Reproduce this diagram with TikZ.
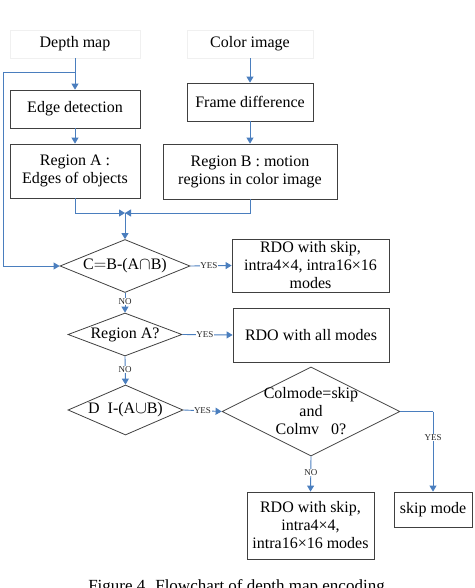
\documentclass[tikz,border=0pt]{standalone}
\usepackage{fontspec}
\setmainfont{Liberation Serif}
\usetikzlibrary{shapes.geometric,arrows.meta}
\definecolor{flowblue}{RGB}{74,126,190}
\definecolor{boxgray}{RGB}{64,64,64}
\begin{document}
\begin{tikzpicture}[x=1pt,y=-1pt,
  txt/.style={font=\fontsize{16}{18}\selectfont, align=center},
  inbox/.style={txt, draw=gray!12, line width=0.8pt, inner sep=0pt, minimum width=130pt, minimum height=28pt},
  pbox/.style={txt, draw=boxgray, line width=0.8pt, inner sep=0pt},
  dia/.style={diamond, draw=boxgray, line width=0.8pt, inner sep=0pt},
  flow/.style={draw=flowblue, line width=0.9pt, -{Triangle[length=6pt,width=7pt]}},
  plain/.style={draw=flowblue, line width=0.9pt},
  yn/.style={font=\fontsize{9}{9}\selectfont, fill=white, inner sep=0.5pt, text=black!85}
]
\useasboundingbox (0,0) rectangle (474,588);

% input boxes
\node[inbox] (dm) at (75,44) {Depth map};
\node[inbox, minimum width=126pt] (ci) at (250,44) {Color image};

% process boxes
\node[pbox, minimum width=130pt, minimum height=38pt] (ed) at (75,109) {Edge detection};
\node[pbox, minimum width=126pt, minimum height=38pt] (fd) at (250,102) {Frame difference};
\node[pbox, minimum width=130pt, minimum height=54pt] (ra) at (75,171) {Region A :\\Edges of objects};
\node[pbox, minimum width=174pt, minimum height=55pt] (rb) at (250,171.5) {Region B : motion\\regions in color image};

% decisions
\node[dia, minimum width=130pt, minimum height=53pt] (c) at (125,266) {};
\node[txt] at (c.center) {C$=$B-(A$\cap$B)};
\node[dia, minimum width=114pt, minimum height=43pt] (qa) at (125,334.5) {};
\node[txt] at (qa.center) {Region A?};
\node[dia, minimum width=115pt, minimum height=50pt] (d) at (125.5,410) {};
\node[txt] at (d.center) {D\ \ I-(A$\cup$B)};
\node[dia, minimum width=178pt, minimum height=89pt] (e) at (311,411.5) {};
\node[txt] at (e.center) {Colmode=skip\\and\\Colmv\ \ \ 0?};

% result boxes
\node[pbox, minimum width=157pt, minimum height=53pt] (r1) at (310.5,265.5) {RDO with skip,\\intra4×4, intra16×16\\modes};
\node[pbox, minimum width=156pt, minimum height=54pt] (r2) at (311,335) {RDO with all modes};
\node[pbox, minimum width=127pt, minimum height=67pt] (r3) at (310.5,525.5) {RDO with skip,\\intra4×4,\\intra16×16 modes};
\node[pbox, minimum width=78pt, minimum height=35pt] (r4) at (433,509.5) {skip mode};

% caption
\node[font=\fontsize{17}{20}\selectfont, anchor=base] (cap) at (236.5,591) {Figure 4. Flowchart of depth map encoding};

% connectors
\coordinate (j1) at (75,72);
\coordinate (fb) at (3,72);
\coordinate (bt) at (125,213);
\coordinate (ec) at (433,411.5);

\draw[flow] (dm.south) -- (ed.north);
\draw[plain] (j1) -- (fb);
\draw[flow] (fb) |- (c.west);
\draw[flow] (ed.south) -- (ra.north);
\draw[flow] (ci.south) -- (fd.north);
\draw[flow] (fd.south) -- (rb.north);
\draw[flow] (ra.south) |- (bt);
\draw[flow] (rb.south) |- (bt);
\draw[flow] (bt) -- (c.north);

\draw[flow] (c.east) -- node[yn, pos=0.45] {YES} (r1.west);
\draw[flow] (c.south) -- node[yn, pos=0.45] {NO} (qa.north);
\draw[flow] (qa.east) -- node[yn, pos=0.45] {YES} (r2.west);
\draw[flow] (qa.south) -- node[yn, pos=0.45] {NO} (d.north);
\draw[flow] (d.east) -- node[yn, pos=0.5] {YES} (e.west);
\draw[plain] (e.east) -- (ec);
\draw[flow] (ec) -- node[yn, pos=0.32] {YES} (r4.north);
\draw[flow] (e.south) -- node[yn, pos=0.45] {NO} (r3.north);
\end{tikzpicture}
\end{document}
